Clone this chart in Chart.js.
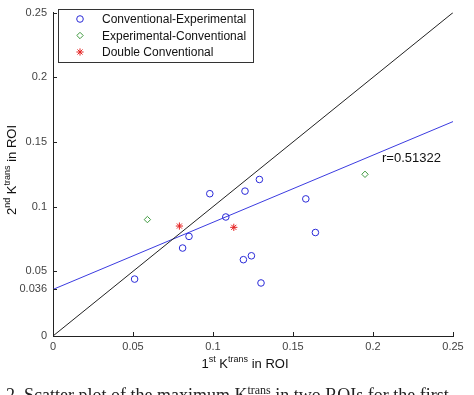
<!DOCTYPE html>
<html>
<head>
<meta charset="utf-8">
<script src="https://cdn.jsdelivr.net/npm/chart.js@4.4.1/dist/chart.umd.min.js"></script>
<style>
  html, body { margin: 0; padding: 0; background: #fff; }
  #wrap { width: 474px; height: 395px; position: relative; overflow: hidden; }
</style>
</head>
<body>
<div id="wrap"><canvas id="scatterChart" width="474" height="395"></canvas></div>
<script>
// data
var ceX = [0.051, 0.081, 0.085, 0.098, 0.108, 0.120, 0.129, 0.119, 0.124, 0.130, 0.158, 0.164];
var ceY = [0.044, 0.068, 0.077, 0.110, 0.092, 0.112, 0.121, 0.059, 0.062, 0.041, 0.106, 0.080];
var ecX = [0.059, 0.195];
var ecY = [0.090, 0.125];
var dcX = [0.079, 0.113];
var dcY = [0.085, 0.084];
var fitIntercept = 0.036;
var fitSlope = 0.519;
var rText = "r=0.51322";
var seriesLabels = ["Conventional-Experimental", "Experimental-Conventional", "Double Conventional"];
var xTicks = [0, 0.05, 0.1, 0.15, 0.2, 0.25];
var xTickLabels = ["0", "0.05", "0.1", "0.15", "0.2", "0.25"];
var yTicks = [0, 0.036, 0.05, 0.1, 0.15, 0.2, 0.25];
var yTickLabels = ["0", "0.036", "0.05", "0.1", "0.15", "0.2", "0.25"];

function toPoints(xs, ys) {
  return xs.map(function(x, i) { return {x: x, y: ys[i]}; });
}

var blue = "#2a2ad8";
var green = "#3f9a3f";
var red = "#e52222";

// draws "1st Ktrans in ROI" style text with superscripts
function richWidth(ctx, parts) {
  var w = 0;
  parts.forEach(function(p) {
    ctx.font = p[1] ? "9px Arial" : "13px Arial";
    w += ctx.measureText(p[0]).width;
  });
  return w;
}
function drawRich(ctx, parts, cx, baseline) {
  var x = cx - richWidth(ctx, parts) / 2;
  parts.forEach(function(p) {
    ctx.font = p[1] ? "9px Arial" : "13px Arial";
    ctx.fillText(p[0], x, p[1] ? baseline - 6 : baseline);
    x += ctx.measureText(p[0]).width;
  });
}

var extras = {
  id: 'extras',
  afterDraw: function(chart) {
    var ctx = chart.ctx;
    var xs = chart.scales.x, ys = chart.scales.y;
    ctx.save();
    // inward tick marks, matlab style
    ctx.strokeStyle = "#222";
    ctx.lineWidth = 1;
    xTicks.forEach(function(v) {
      var px = Math.round(xs.getPixelForValue(v)) + 0.5;
      ctx.beginPath();
      ctx.moveTo(px, ys.bottom);
      ctx.lineTo(px, ys.bottom - 4);
      ctx.stroke();
    });
    yTicks.forEach(function(v) {
      var py = Math.round(ys.getPixelForValue(v)) + 0.5;
      ctx.beginPath();
      ctx.moveTo(xs.left, py);
      ctx.lineTo(xs.left + 4, py);
      ctx.stroke();
    });

    // legend box
    ctx.fillStyle = "#fff";
    ctx.fillRect(58.5, 9.5, 195, 53);
    ctx.strokeStyle = "#333";
    ctx.strokeRect(58.5, 9.5, 195, 53);
    var rows = [19, 35.5, 52];
    chart.data.datasets.slice(0, 3).forEach(function(ds, i) {
      ctx.strokeStyle = ds.borderColor;
      ctx.fillStyle = "rgba(0,0,0,0)";
      ctx.lineWidth = 1;
      Chart.helpers.drawPoint(ctx, {pointStyle: ds.pointStyle, radius: ds.pointRadius, borderWidth: 1, rotation: 0}, 80, rows[i]);
      ctx.fillStyle = "#111";
      ctx.font = "12px Arial";
      ctx.textBaseline = "middle";
      ctx.textAlign = "left";
      ctx.fillText(ds.label, 102, rows[i] + 1);
    });

    // correlation note
    ctx.fillStyle = "#111";
    ctx.font = "13px Arial";
    ctx.textBaseline = "alphabetic";
    ctx.fillText(rText, 382, 162);

    // axis titles
    drawRich(ctx, [["1", false], ["st", true], [" K", false], ["trans", true], [" in ROI", false]], 245, 368);
    ctx.save();
    ctx.translate(16, 170);
    ctx.rotate(-Math.PI / 2);
    drawRich(ctx, [["2", false], ["nd", true], [" K", false], ["trans", true], [" in ROI", false]], 0, 0);
    ctx.restore();

    // cut-off figure caption at the bottom edge
    ctx.fillStyle = "#222";
    ctx.font = "18px 'Liberation Serif'";
    var cap1 = "2. Scatter plot of the maximum K";
    ctx.fillText(cap1, 6, 401);
    var w = ctx.measureText(cap1).width;
    ctx.font = "12px 'Liberation Serif'";
    ctx.fillText("trans", 6 + w, 394);
    var w2 = ctx.measureText("trans").width;
    ctx.font = "18px 'Liberation Serif'";
    ctx.fillText(" in two ROIs for the first", 6 + w + w2, 401);
    ctx.restore();
  }
};

var chartEl = document.getElementById("scatterChart");
var myScatter = new Chart(chartEl, {
  type: 'scatter',
  data: {
    datasets: [
      {
        label: seriesLabels[0],
        data: toPoints(ceX, ceY),
        pointStyle: 'circle',
        pointRadius: 3.3,
        borderColor: blue,
        backgroundColor: 'rgba(0,0,0,0)',
        borderWidth: 1
      },
      {
        label: seriesLabels[1],
        data: toPoints(ecX, ecY),
        pointStyle: 'rectRot',
        pointRadius: 3.2,
        borderColor: green,
        backgroundColor: 'rgba(0,0,0,0)',
        borderWidth: 1
      },
      {
        label: seriesLabels[2],
        data: toPoints(dcX, dcY),
        pointStyle: 'star',
        pointRadius: 3.6,
        borderColor: red,
        backgroundColor: red,
        borderWidth: 1
      },
      {
        label: 'identity',
        data: [{x: 0, y: 0}, {x: 0.25, y: 0.25}],
        showLine: true,
        pointRadius: 0,
        borderColor: "#222",
        borderWidth: 1
      },
      {
        label: 'fit',
        data: [{x: 0, y: fitIntercept}, {x: 0.25, y: fitIntercept + fitSlope * 0.25}],
        showLine: true,
        pointRadius: 0,
        borderColor: "#3b3be0",
        borderWidth: 1
      }
    ]
  },
  options: {
    responsive: false,
    animation: false,
    devicePixelRatio: 1,
    layout: { padding: { left: 0, top: 5, right: 21, bottom: 0 } },
    plugins: { legend: { display: false }, tooltip: { enabled: false } },
    scales: {
      x: {
        type: 'linear', min: 0, max: 0.25,
        afterBuildTicks: function(s) { s.ticks = xTicks.map(function(v) { return {value: v}; }); },
        afterFit: function(s) { s.height = 59; },
        ticks: {
          callback: function(v, i) { return xTickLabels[i]; },
          color: '#444', font: { family: 'Arial', size: 11 }, padding: 4, maxRotation: 0, autoSkip: false
        },
        grid: { display: false, drawTicks: false },
        border: { display: true, color: '#222', width: 1 }
      },
      y: {
        type: 'linear', min: 0, max: 0.25,
        afterBuildTicks: function(s) { s.ticks = yTicks.map(function(v) { return {value: v}; }); },
        afterFit: function(s) { s.width = 53; },
        ticks: {
          callback: function(v, i) { return yTickLabels[i]; },
          color: '#444', font: { family: 'Arial', size: 11 }, padding: 6, autoSkip: false
        },
        grid: { display: false, drawTicks: false },
        border: { display: true, color: '#222', width: 1 }
      }
    }
  },
  plugins: [extras]
});
</script>
</body>
</html>
